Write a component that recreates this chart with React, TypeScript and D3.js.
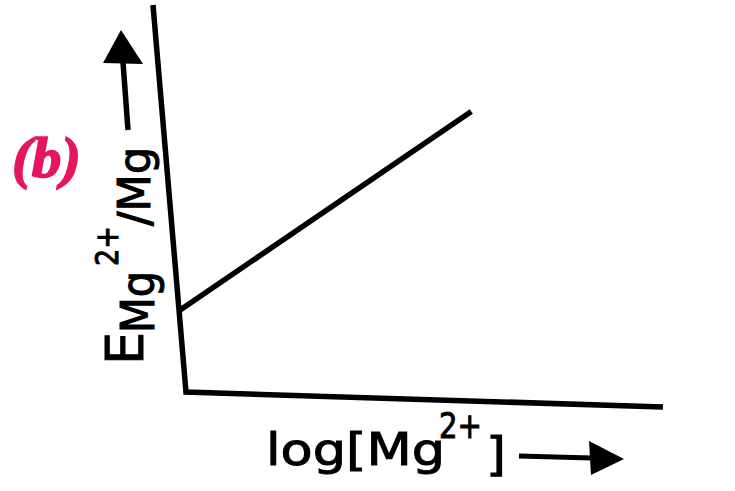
import React from "react";
import * as d3 from "d3";

// Data (abstract units along the two hand-drawn axes)
const xDomain = [0, 10];
const yDomain = [0, 10];
const lineX = [0, 6.5];
const lineY = [2.1, 7.5];
const panelLabel = "(b)";
const xLabelMain = "log[Mg";
const xLabelSup = "2+";
const xLabelEnd = "]";
const yLabelMain = "E";
const yLabelSub = "Mg";
const yLabelSup = "2+";
const yLabelTail = "/Mg";

const W = 735;
const H = 491;

export default function App() {
  // axis geometry (slightly skewed, hand-drawn look)
  const origin = { x: 186, y: 392 };
  const xAlong = d3.scaleLinear().domain(xDomain).range([0, 477]);
  const xDrop = d3.scaleLinear().domain(xDomain).range([0, 15]);
  const yAlong = d3.scaleLinear().domain(yDomain).range([0, 387]);
  const yLean = d3.scaleLinear().domain(yDomain).range([0, -33]);

  const project = (x: number, y: number): [number, number] => [
    origin.x + xAlong(x) + yLean(y),
    origin.y + xDrop(x) - yAlong(y),
  ];

  const lineGen = d3
    .line<[number, number]>()
    .x((d) => project(d[0], d[1])[0])
    .y((d) => project(d[0], d[1])[1]);

  const axisPts: [number, number][] = [
    [xDomain[0], yDomain[1]],
    [xDomain[0], yDomain[0]],
    [xDomain[1], yDomain[0]],
  ];
  const dataPts: [number, number][] = lineX.map((x, i) => [x, lineY[i]]);

  const font = "'DejaVu Sans', sans-serif";

  return (
    <svg
      width={W}
      height={H}
      style={{ position: "absolute", left: 0, top: 0, background: "#fff" }}
    >
      <rect width={W} height={H} fill="#fff" />
      {/* axes */}
      <path
        d={lineGen(axisPts) || ""}
        fill="none"
        stroke="#000"
        strokeWidth={5.5}
        strokeLinejoin="miter"
      />
      {/* data line */}
      <path
        d={lineGen(dataPts) || ""}
        fill="none"
        stroke="#000"
        strokeWidth={5.5}
      />

      {/* panel label */}
      <text
        x={12}
        y={177}
        fontFamily="'Liberation Serif', serif"
        fontWeight="bold"
        fontStyle="italic"
        fontSize={58}
        fill="#e6155f"
        stroke="#e6155f"
        strokeWidth={1.6}
        textLength={69}
        lengthAdjust="spacingAndGlyphs"
      >
        {panelLabel}
      </text>

      {/* x label */}
      <g fontFamily={font} fill="#000" stroke="#000" strokeWidth={1}>
        <text x={266} y={465} fontSize={45} textLength={179} lengthAdjust="spacingAndGlyphs">
          {xLabelMain}
        </text>
        <text x={439} y={438} fontSize={35} textLength={43} lengthAdjust="spacingAndGlyphs">
          {xLabelSup}
        </text>
        <text x={486} y={470} fontSize={47} textLength={20} lengthAdjust="spacingAndGlyphs">
          {xLabelEnd}
        </text>
      </g>
      {/* x arrow */}
      <line x1={519} y1={456} x2={592} y2={458} stroke="#000" strokeWidth={5} />
      <polygon points="589,441 624,459 591,475" fill="#000" />

      {/* y label (rotated) */}
      <g transform="rotate(-90)" fontFamily={font} fill="#000" stroke="#000" strokeWidth={1}>
        <text x={-365} y={143} fontSize={52} textLength={33} lengthAdjust="spacingAndGlyphs">
          {yLabelMain}
        </text>
        <text x={-333} y={154} fontSize={46} textLength={62} lengthAdjust="spacingAndGlyphs">
          {yLabelSub}
        </text>
        <text x={-266} y={118} fontSize={32} textLength={40} lengthAdjust="spacingAndGlyphs">
          {yLabelSup}
        </text>
        <text x={-226} y={150} fontSize={44} textLength={79} lengthAdjust="spacingAndGlyphs">
          {yLabelTail}
        </text>
      </g>
      {/* y arrow */}
      <line x1={123} y1={62} x2={128} y2={130} stroke="#000" strokeWidth={5.5} />
      <polygon points="121,30 143,64 103,63" fill="#000" />
    </svg>
  );
}
